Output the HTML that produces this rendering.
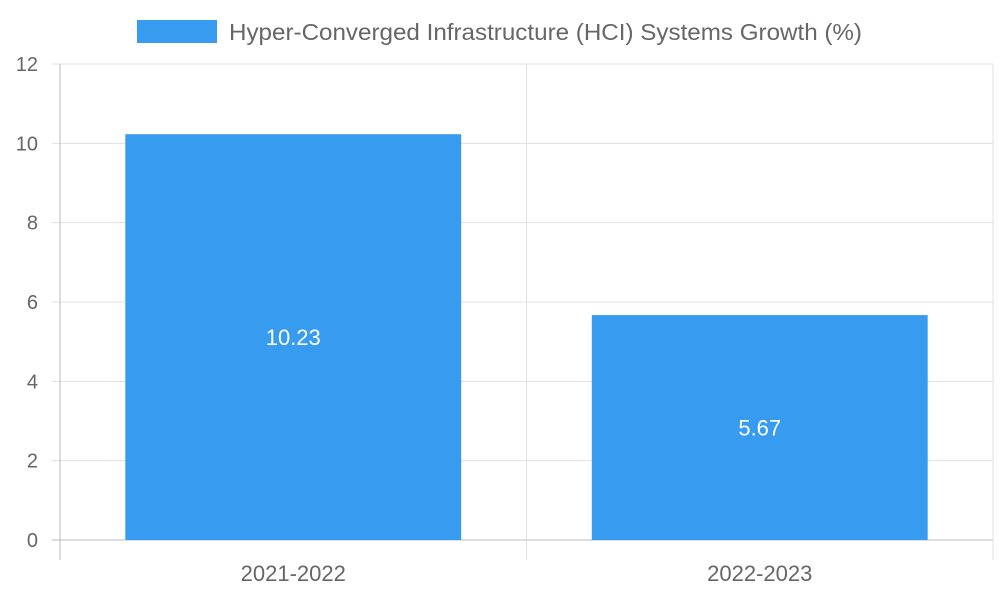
<!DOCTYPE html>
<html><head><meta charset="utf-8">
<style>
html,body{margin:0;padding:0;background:#fff;width:1000px;height:600px;overflow:hidden}
svg text{font-family:"Liberation Sans",sans-serif}
</style></head>
<body>
<svg id="chart" width="1000" height="600" xmlns="http://www.w3.org/2000/svg">
<g id="legend">
<rect x="137" y="20" width="80" height="23" fill="#379cf0"/>
<text x="229" y="40" font-size="23" textLength="633" lengthAdjust="spacingAndGlyphs" fill="#666">Hyper-Converged Infrastructure (HCI) Systems Growth (%)</text>
</g>
<g id="grid"></g>
<g id="bars"></g>
<g id="labels"></g>
</svg>
<script>
const categories = ["2021-2022", "2022-2023"];
const values = [10.23, 5.67];
const yTicks = [0, 2, 4, 6, 8, 10, 12];

const NS = "http://www.w3.org/2000/svg";
const plotLeft = 60, plotRight = 993, plotTop = 64, plotBottom = 540, yMax = 12;
const yScale = v => plotBottom - (v / yMax) * (plotBottom - plotTop);
const catW = (plotRight - plotLeft) / categories.length;
const xScale = i => plotLeft + catW * i;
function mk(tag, attrs, parent) {
  const e = document.createElementNS(NS, tag);
  for (const k in attrs) e.setAttribute(k, attrs[k]);
  parent.appendChild(e);
  return e;
}
const gridG = document.getElementById("grid");
const barsG = document.getElementById("bars");
const labelsG = document.getElementById("labels");

yTicks.forEach(t => {
  const line = mk("line", {x1: plotLeft - 8, x2: plotRight, y1: yScale(t), y2: yScale(t), stroke: t === 0 ? "#bbb" : "#e0e0e0", "stroke-width": 1}, gridG);
  
  
  const tx = mk("text", {x: plotLeft - 22, y: yScale(t) + 7, "font-size": 20, fill: "#666", "text-anchor": "end"}, labelsG);
  tx.textContent = t;
  
  
});
for (let i = 0; i <= categories.length; i++) {
  const line = mk("line", {x1: xScale(i), x2: xScale(i), y1: plotTop, y2: plotBottom + 20, stroke: i === 0 ? "#bbb" : "#e0e0e0", "stroke-width": 1}, gridG);
  
  
}
categories.forEach((c, i) => {
  const bw = catW * 0.72;
  const bx = xScale(i) + (catW - bw) / 2;
  const r = mk("rect", {x: bx, y: yScale(values[i]), width: bw, height: plotBottom - yScale(values[i]), fill: "#379cf0"}, barsG);
  
  
  const vl = mk("text", {x: bx + bw / 2, y: (yScale(values[i]) + plotBottom) / 2 + 8, "font-size": 22, fill: "#fff", "text-anchor": "middle"}, labelsG);
  vl.textContent = values[i];
  
  
  const cl = mk("text", {x: xScale(i) + catW / 2, y: 581, "font-size": 22, fill: "#666", "text-anchor": "middle"}, labelsG);
  cl.textContent = c;
  
  
});
</script>
</body></html>
